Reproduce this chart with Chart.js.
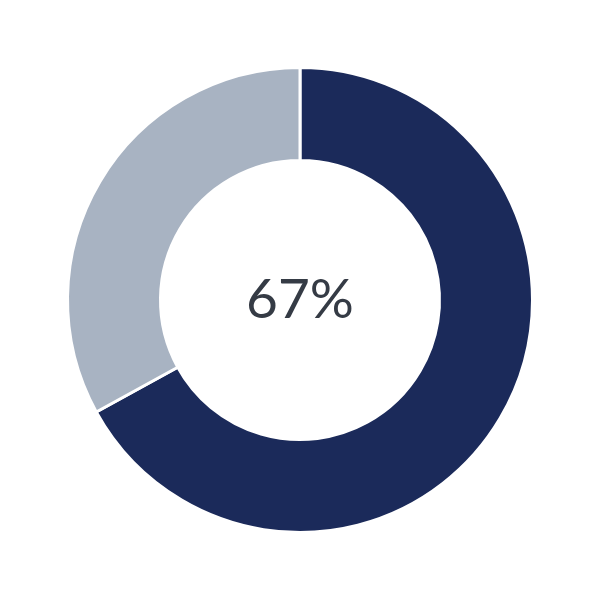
<!DOCTYPE html>
<html>
<head>
<meta charset="utf-8">
<script src="https://cdn.jsdelivr.net/npm/chart.js@4"></script>
<style>
  html, body { margin: 0; padding: 0; background: #fff; }
  #wrap { width: 600px; height: 600px; }
</style>
</head>
<body>
<div id="wrap"><canvas id="chart"></canvas></div>
<script>
const labels = ['Yes', 'No'];
const values = [67, 33];
const colors = ['#1b2a5a', '#a8b3c2'];
const centerLabel = '67%';

const centerText = {
  id: 'centerText',
  afterDraw(chart) {
    const { ctx } = chart;
    const meta = chart.getDatasetMeta(0).data[0];
    ctx.save();
    ctx.font = '400 55px Lato';
    ctx.fillStyle = '#353b45';
    ctx.textAlign = 'center';
    ctx.textBaseline = 'middle';
    ctx.fillText(centerLabel, meta.x, meta.y);
    ctx.restore();
  }
};

new Chart(document.getElementById('chart'), {
  type: 'doughnut',
  data: {
    labels,
    datasets: [{
      data: values,
      backgroundColor: colors,
      borderColor: '#ffffff',
      borderWidth: 3
    }]
  },
  options: {
    responsive: true,
    maintainAspectRatio: false,
    animation: false,
    cutout: '60%',
    layout: { padding: 66 },
    plugins: {
      legend: { display: false },
      tooltip: { enabled: false }
    }
  },
  plugins: [centerText]
});
</script>
</body>
</html>
